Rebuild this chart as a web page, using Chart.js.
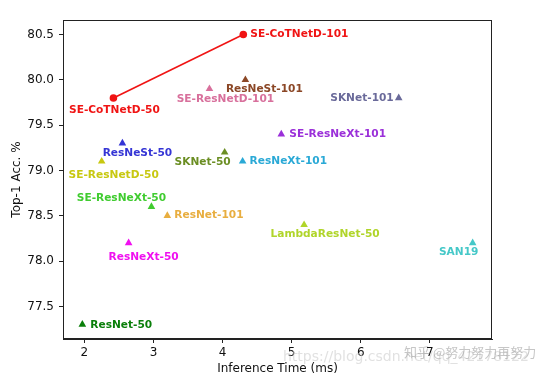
<!DOCTYPE html>
<html>
<head>
<meta charset="utf-8">
<script src="https://cdn.jsdelivr.net/npm/chart.js@4"></script>
<style>
  body { margin: 0; background: #fff; }
</style>
</head>
<body>
<canvas id="chart" width="546" height="379"></canvas>
<script>
// CoTNet line (circles joined by a line)
const cotNames = ["SE-CoTNetD-50", "SE-CoTNetD-101"];
const cotTimes = [2.42, 4.3];
const cotAccs = [79.8, 80.5];

// other models (triangles)
const models = [
  "SE-ResNetD-101", "ResNeSt-101", "SKNet-101", "SE-ResNeXt-101",
  "ResNeXt-101", "SKNet-50", "ResNeSt-50", "SE-ResNetD-50",
  "SE-ResNeXt-50", "ResNet-101", "ResNeXt-50", "LambdaResNet-50",
  "SAN19", "ResNet-50"
];
const times = [3.81, 4.33, 6.55, 4.85, 4.29, 4.03, 2.55, 2.25, 2.97, 3.2, 2.64, 5.18, 7.62, 1.97];
const accs = [79.9, 80.0, 79.8, 79.4, 79.1, 79.2, 79.3, 79.1, 78.6, 78.5, 78.2, 78.4, 78.2, 77.3];

const xTicks = [2, 3, 4, 5, 6, 7];
const yTicks = [77.5, 78.0, 78.5, 79.0, 79.5, 80.0, 80.5];

// styles
const cotColor = "#f01414";
const colors = [
  "#d8709c", "#8b4726", "#6a6a9a", "#9b30d9",
  "#2aa9d6", "#6b8e23", "#3535d5", "#c8c810",
  "#40cc30", "#e8ae40", "#f010f0", "#b0d52a",
  "#45c8c8", "#0a7f0a"
];
// label placement: [dx, dy, align]
const cotLabelPos = [[1, 12, "center"], [7, 0, "left"]];
const labelPos = [
  [16, 10, "center"], [19, 9, "center"], [-5, 0.5, "right"], [8, 0.5, "left"],
  [7, 0, "left"], [-22, 10, "center"], [15, 9.5, "center"], [12, 14, "center"],
  [-30, -8, "center"], [7, -1, "left"], [15, 14, "center"], [21, 9, "center"],
  [-14, 9, "center"], [8, 1, "left"]
];

const labelPlugin = {
  id: "pointLabels",
  afterDatasetsDraw(chart) {
    const ctx = chart.ctx;
    ctx.save();
    ctx.font = "bold 10.6px 'DejaVu Sans'";
    ctx.textBaseline = "middle";
    chart.data.datasets.forEach((ds, di) => {
      const meta = chart.getDatasetMeta(di);
      meta.data.forEach((pt, i) => {
        const pos = ds.labelPos[i];
        ctx.fillStyle = Array.isArray(ds.backgroundColor) ? ds.backgroundColor[i] : ds.backgroundColor;
        ctx.textAlign = pos[2];
        ctx.fillText(ds.names[i], pt.x + pos[0], pt.y + pos[1]);
      });
    });
    ctx.restore();
  }
};

const framePlugin = {
  id: "frame",
  afterDraw(chart) {
    const { ctx, chartArea: a } = chart;
    ctx.save();
    ctx.strokeStyle = "#222";
    ctx.lineWidth = 1;
    ctx.strokeRect(Math.round(a.left) + 0.5, Math.round(a.top) + 0.5,
      Math.round(a.right - a.left) - 1, Math.round(a.bottom - a.top) - 1);

    // watermark
    ctx.textBaseline = "middle";
    ctx.textAlign = "left";
    ctx.fillStyle = "rgba(200,200,200,0.55)";
    ctx.font = "14px 'DejaVu Sans'";
    ctx.fillText("https://blog.csdn.net/qq_42178122", 283, 357);
    ctx.fillStyle = "rgba(160,160,160,0.6)";
    ctx.font = "13px 'Noto Sans CJK SC'";
    ctx.fillText("知乎 @努力努力再努力", 404, 352);
    ctx.restore();
  }
};

const tickFont = { family: "'DejaVu Sans'", size: 12 };

new Chart(document.getElementById("chart"), {
  type: "scatter",
  data: {
    datasets: [
      {
        names: cotNames,
        labelPos: cotLabelPos,
        data: cotTimes.map((t, i) => ({ x: t, y: cotAccs[i] })),
        showLine: true,
        borderColor: cotColor,
        backgroundColor: cotColor,
        borderWidth: 1.6,
        pointStyle: "circle",
        pointRadius: 3.8,
        pointBorderWidth: 0
      },
      {
        names: models,
        labelPos: labelPos,
        data: times.map((t, i) => ({ x: t, y: accs[i] })),
        backgroundColor: colors,
        borderColor: colors,
        pointStyle: "triangle",
        pointRadius: 4.4,
        pointBorderWidth: 0
      }
    ]
  },
  options: {
    responsive: false,
    devicePixelRatio: 1,
    animation: false,
    layout: { padding: { top: 20, right: 54, left: 0, bottom: 0 } },
    plugins: { legend: { display: false }, tooltip: { enabled: false } },
    scales: {
      x: {
        type: "linear",
        min: 1.69,
        max: 7.9,
        afterBuildTicks: s => { s.ticks = xTicks.map(v => ({ value: v })); },
        afterFit: s => { s.height = 40; },
        grid: { drawOnChartArea: false, drawTicks: true, tickLength: 4, color: "#222" },
        border: { display: true, color: "#222" },
        ticks: { color: "#111", font: tickFont, padding: 3, maxRotation: 0 },
        title: { display: true, text: "Inference Time (ms)", color: "#111", font: tickFont, padding: { top: 0, bottom: 2.5 } }
      },
      y: {
        type: "linear",
        min: 77.14,
        max: 80.66,
        afterBuildTicks: s => { s.ticks = yTicks.map(v => ({ value: v })); },
        afterFit: s => { s.width = 63; },
        grid: { drawOnChartArea: false, drawTicks: true, tickLength: 4, color: "#222" },
        border: { display: true, color: "#222" },
        ticks: { color: "#111", font: tickFont, padding: 5, callback: v => v.toFixed(1) },
        title: { display: true, text: "Top-1 Acc. %", color: "#111", font: tickFont, padding: { top: 9.5, bottom: 0 } }
      }
    }
  },
  plugins: [labelPlugin, framePlugin]
});
</script>
</body>
</html>
